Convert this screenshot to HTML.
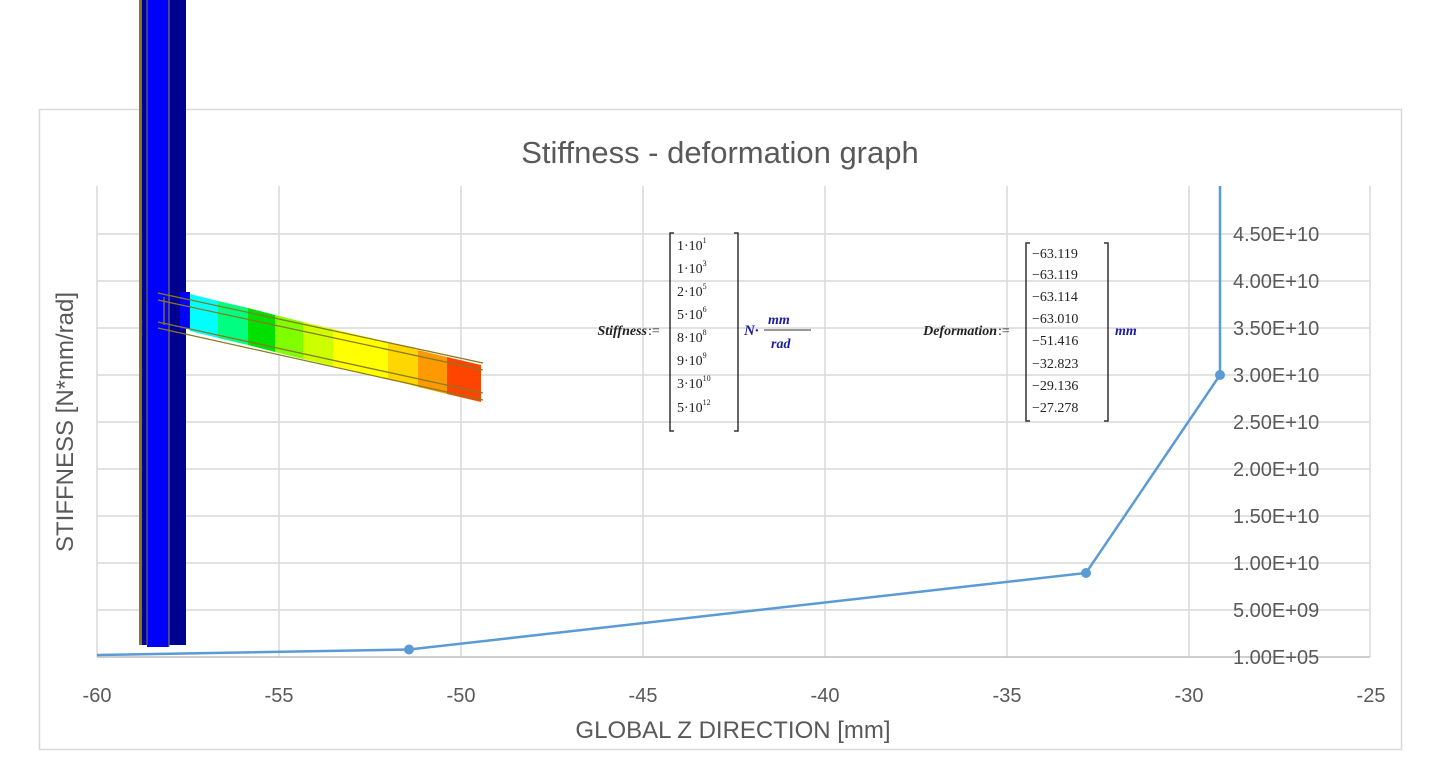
<!DOCTYPE html>
<html><head><meta charset="utf-8"><style>
html,body{margin:0;padding:0;background:#fff}
svg text{font-family:"Liberation Sans",sans-serif;fill:#595959}
svg .m text{font-family:"Liberation Serif",serif;fill:#222}
svg .m text.b{fill:#1a1aa0}
</style></head><body>
<svg width="1451" height="773" viewBox="0 0 1451 773" xmlns="http://www.w3.org/2000/svg">
<rect x="39.5" y="109.5" width="1362" height="640" fill="#fff" stroke="#d9d9d9" stroke-width="1.5"/>
<g stroke="#d9d9d9" stroke-width="1.5">
<line x1="97" y1="234" x2="1370" y2="234"/><line x1="97" y1="281" x2="1370" y2="281"/>
<line x1="97" y1="328" x2="1370" y2="328"/><line x1="97" y1="375" x2="1370" y2="375"/>
<line x1="97" y1="422" x2="1370" y2="422"/><line x1="97" y1="469" x2="1370" y2="469"/>
<line x1="97" y1="516" x2="1370" y2="516"/><line x1="97" y1="563" x2="1370" y2="563"/>
<line x1="97" y1="610" x2="1370" y2="610"/>
<line x1="97" y1="186" x2="97" y2="657"/><line x1="279" y1="186" x2="279" y2="657"/>
<line x1="461" y1="186" x2="461" y2="657"/><line x1="643" y1="186" x2="643" y2="657"/>
<line x1="825" y1="186" x2="825" y2="657"/><line x1="1007" y1="186" x2="1007" y2="657"/>
<line x1="1189" y1="186" x2="1189" y2="657"/><line x1="1370" y1="186" x2="1370" y2="657"/>
</g>
<line x1="97" y1="657" x2="1370" y2="657" stroke="#bfbfbf" stroke-width="1.5"/>
<text x="720" y="163" font-size="31" text-anchor="middle">Stiffness - deformation graph</text>
<g font-size="20" text-anchor="middle">
<text x="97" y="702">-60</text><text x="279" y="702">-55</text><text x="461" y="702">-50</text>
<text x="643" y="702">-45</text><text x="825" y="702">-40</text><text x="1007" y="702">-35</text>
<text x="1189" y="702">-30</text><text x="1371" y="702">-25</text>
</g>
<text x="733" y="738" font-size="24" text-anchor="middle">GLOBAL Z DIRECTION  [mm]</text>
<text transform="translate(73,422) rotate(-90)" font-size="24" text-anchor="middle">STIFFNESS  [N*mm/rad]</text>
<g font-size="20">
<text x="1233" y="241">4.50E+10</text><text x="1233" y="288">4.00E+10</text>
<text x="1233" y="335">3.50E+10</text><text x="1233" y="382">3.00E+10</text>
<text x="1233" y="429">2.50E+10</text><text x="1233" y="476">2.00E+10</text>
<text x="1233" y="523">1.50E+10</text><text x="1233" y="570">1.00E+10</text>
<text x="1233" y="617">5.00E+09</text><text x="1233" y="664">1.00E+05</text>
</g>
<!-- column -->
<rect x="139" y="0" width="47" height="645" fill="#00008f"/>
<rect x="139" y="0" width="3" height="645" fill="#8a7a10"/>
<rect x="142" y="0" width="4" height="645" fill="#0000a0"/>
<rect x="147" y="0" width="22" height="647" fill="#0000ff"/>
<line x1="147" y1="0" x2="147" y2="645" stroke="#776" stroke-width="1"/>
<line x1="169" y1="0" x2="169" y2="647" stroke="#776" stroke-width="1.2"/>
<!-- beam -->
<g>
<polygon points="180,292 190,292 190,329 180,329" fill="#0000ff"/>
<polygon points="190,294 218,301 218,338 190,331" fill="#00ffff"/>
<polygon points="218,301 248,308 248,345 218,338" fill="#00ff80"/>
<polygon points="248,308 275,315 275,352 248,345" fill="#00e000"/>
<polygon points="275,315 303,322 303,359 275,352" fill="#80ff00"/>
<polygon points="303,322 333,329 333,366 303,359" fill="#ccff00"/>
<polygon points="333,329 388,342 388,379 333,366" fill="#ffff00"/>
<polygon points="388,342 418,350 418,387 388,379" fill="#ffd700"/>
<polygon points="418,350 447,357 447,394 418,387" fill="#ff9900"/>
<polygon points="447,357 481,365 481,402 447,394" fill="#ff4400"/>
<g stroke="#8a7a20" stroke-width="1.3" fill="none">
<line x1="158" y1="293" x2="483" y2="363"/><line x1="158" y1="300" x2="483" y2="370"/>
<line x1="158" y1="322" x2="483" y2="393"/><line x1="158" y1="328" x2="483" y2="400"/>
<line x1="164" y1="297" x2="164" y2="325"/>
</g>
</g>
<!-- series -->
<clipPath id="c"><rect x="97" y="186" width="1273" height="475"/></clipPath>
<g clip-path="url(#c)">
<polyline points="-15,657 409,649.5 1086,573 1220,375 1220,-40000" fill="none" stroke="#5b9bd5" stroke-width="2.5"/>
</g>
<g fill="#5b9bd5"><circle cx="409" cy="649.5" r="5"/><circle cx="1086" cy="573" r="5"/><circle cx="1220" cy="375" r="5"/></g>
<!-- matrices -->
<g class="m">
<text x="647" y="335" font-size="14" font-style="italic" font-weight="bold" text-anchor="end">Stiffness</text>
<text x="648" y="335" font-size="14">:=</text>
<path d="M674,233 h-4 v198 h4 M734,233 h4 v198 h-4" stroke="#333" stroke-width="1.5" fill="none"/>
<g font-size="14">
<text x="677" y="250">1·10<tspan font-size="8" dy="-7">1</tspan></text>
<text x="677" y="273">1·10<tspan font-size="8" dy="-7">3</tspan></text>
<text x="677" y="296">2·10<tspan font-size="8" dy="-7">5</tspan></text>
<text x="677" y="319">5·10<tspan font-size="8" dy="-7">6</tspan></text>
<text x="677" y="342">8·10<tspan font-size="8" dy="-7">8</tspan></text>
<text x="677" y="365">9·10<tspan font-size="8" dy="-7">9</tspan></text>
<text x="677" y="388">3·10<tspan font-size="8" dy="-7">10</tspan></text>
<text x="677" y="412">5·10<tspan font-size="8" dy="-7">12</tspan></text>
</g>
<text class="b" x="744" y="335" font-size="15" font-weight="bold" font-style="italic">N·</text>
<text class="b" x="768" y="324" font-size="14" font-weight="bold" font-style="italic">mm</text>
<line x1="764" y1="330" x2="811" y2="330" stroke="#333" stroke-width="1"/>
<text class="b" x="771" y="348" font-size="14" font-weight="bold" font-style="italic">rad</text>
<text x="997" y="335" font-size="14" font-style="italic" font-weight="bold" text-anchor="end">Deformation</text>
<text x="998" y="335" font-size="14">:=</text>
<path d="M1030,243 h-4 v178 h4 M1104,243 h4 v178 h-4" stroke="#333" stroke-width="1.5" fill="none"/>
<g font-size="14">
<text x="1032" y="258">−63.119</text><text x="1032" y="279">−63.119</text>
<text x="1032" y="301">−63.114</text><text x="1032" y="323">−63.010</text>
<text x="1032" y="345">−51.416</text><text x="1032" y="368">−32.823</text>
<text x="1032" y="390">−29.136</text><text x="1032" y="412">−27.278</text>
</g>
<text class="b" x="1115" y="335" font-size="14" font-weight="bold" font-style="italic">mm</text>
</g>
</svg>
</body></html>
